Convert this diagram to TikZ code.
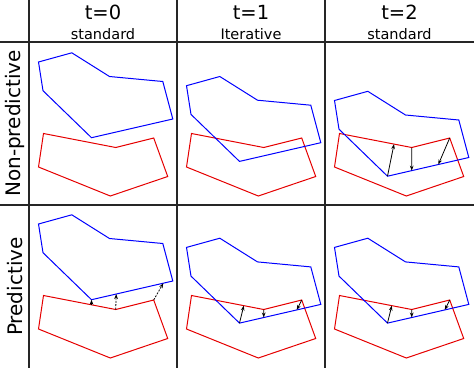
\documentclass[tikz,border=0pt]{standalone}
\usepackage{fontspec}
\setmainfont{DejaVu Sans}
\usetikzlibrary{arrows.meta,calc}

\begin{document}
\begin{tikzpicture}[x=1pt,y=-1pt,
    gridline/.style={draw=black!85,line width=1.3pt},
    bl/.style={draw=blue,line width=1pt},
    rd/.style={draw=red!90!black,line width=1pt},
    arr/.style={-{Stealth[length=5pt,width=3.6pt]},line width=0.8pt},
    darr/.style={arr,dash pattern=on 2pt off 1.3pt},
    head/.style={anchor=base,font=\fontsize{19.5}{20}\selectfont},
    sub/.style={anchor=base,font=\fontsize{14.5}{15}\selectfont},
    side/.style={rotate=90,font=\fontsize{20}{22}\selectfont}]
  \useasboundingbox (0,0) rectangle (474,368);

  % table lines
  \foreach \x/\i in {29/1,177/2,325/3}
    {\coordinate (v\i t) at (\x,0); \coordinate (v\i b) at (\x,368);
     \draw[gridline] (v\i t) -- (v\i b);}
  \foreach \y/\i in {42/1,205/2}
    {\coordinate (h\i l) at (0,\y); \coordinate (h\i r) at (474,\y);
     \draw[gridline] (h\i l) -- (h\i r);}

  % column and row titles
  \foreach \x/\t/\s/\i in {103/0/standard/1,251/1/Iterative/2,399.5/2/standard/3}{
    \node[head] (t\i) at (\x,19.5) {t=\t};
    \node[sub] (s\i) at (\x,39) {\s};}
  \node[side] (np) at (15,123.5) {Non-predictive};
  \node[side] (pr) at (15,286.5) {Predictive};

  % red and blue polygons in each cell
  \foreach \n/\px/\py/\bs in {a/29/42/0,b/177/42/23.7,c/325/42/38.5,
                              d/29/204/0,e/177/204/23.4,f/325/204/23.4}{
    \begin{scope}[shift={(\px,\py)}]
      \draw[rd] (14.5,91.5) coordinate (\n r1) -- (86.7,105.5) coordinate (\n r2)
        -- (124.7,96) coordinate (\n r3) -- (138.7,134.5) -- (81.3,154)
        -- (9.5,125) -- cycle;
      \draw[bl] (9.5,20+\bs) -- (42.8,10.8+\bs) -- (80.5,34.5+\bs)
        -- (133.8,39.5+\bs) -- (143.8,77+\bs) coordinate (\n b5)
        -- (62.5,95.7+\bs) coordinate (\n b6) -- (14,48.7+\bs) -- cycle;
    \end{scope}}

  % correction arrows
  \coordinate (c1) at ($(cr1)!.755!(cr2)$);
  \coordinate (c2) at ($(cb6)!.298!(cb5)$);
  \coordinate (c3) at ($(cb6)!.625!(cb5)$);
  \draw[arr] (cb6) -- (c1); \draw[arr] (cr2) -- (c2); \draw[arr] (cr3) -- (c3);

  \coordinate (d0) at ($(dr1)!.665!(dr2)$);
  \coordinate (d2) at ($(db6)!.304!(db5)$);
  \coordinate (d3) at ($(db6)!.883!(db5)$);
  \draw[darr] (d0) -- (db6); \draw[darr] (dr2) -- (d2); \draw[darr] (dr3) -- (d3);

  \foreach \n in {e,f}{
    \coordinate (\n1) at ($(\n r1)!.724!(\n r2)$);
    \coordinate (\n2) at ($(\n b6)!.298!(\n b5)$);
    \coordinate (\n3) at ($(\n b6)!.704!(\n b5)$);
    \draw[arr] (\n b6) -- (\n1); \draw[arr] (\n r2) -- (\n2);
    \draw[arr] (\n r3) -- (\n3);}
\end{tikzpicture}
\end{document}
